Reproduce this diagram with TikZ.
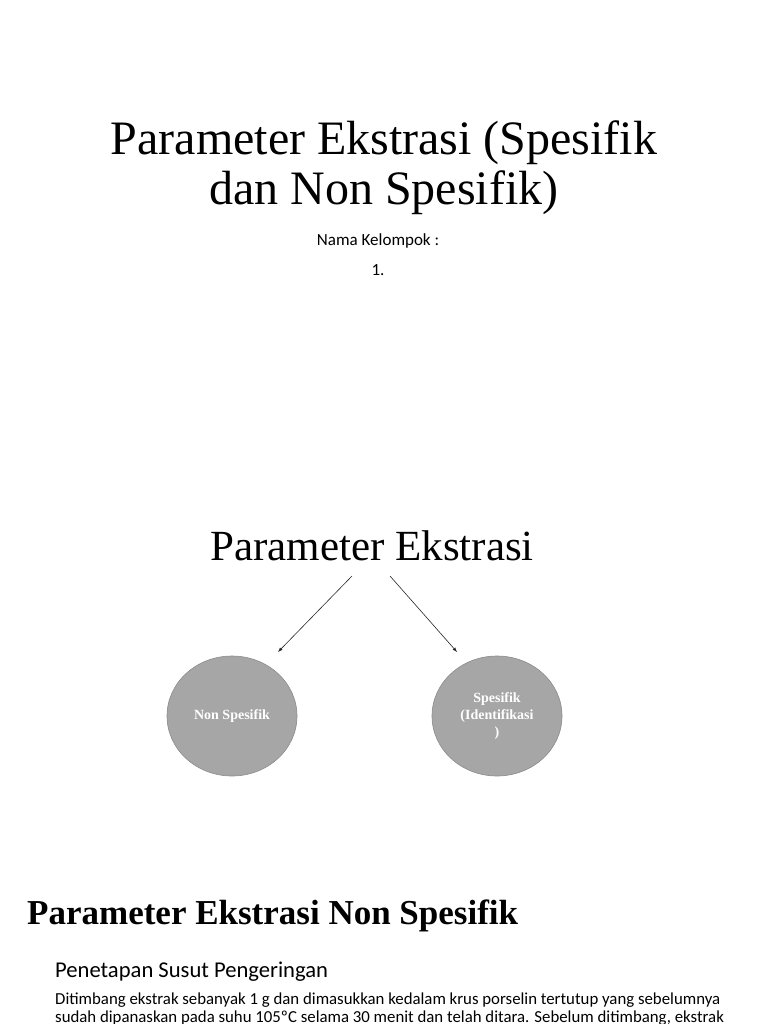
\documentclass[tikz,border=0pt]{standalone}
\usetikzlibrary{shapes.geometric}
\usepackage{fontspec}
\setmainfont{Liberation Serif}
\newfontfamily\cali{Carlito}
\begin{document}
\begin{tikzpicture}[x=1pt,y=-1pt,
  blob/.style={ellipse,minimum width=130pt,minimum height=120pt,fill=black!35,draw=black!45,line width=0.6pt,text=white,font=\fontsize{14}{17}\selectfont\bfseries,align=center,inner sep=0pt},
  arr/.style={-latex,line width=0.6pt,black!85}]
\useasboundingbox (0,0) rectangle (768,1024);
\node[font=\fontsize{48}{50}\selectfont,align=center] (t) at (384,168) {Parameter Ekstrasi (Spesifik\\dan Non Spesifik)};
\node[font=\cali\fontsize{17}{30}\selectfont,align=center] (n) at (378,255) {Nama Kelompok :\\1.};
\node[font=\fontsize{43}{46}\selectfont] (p) at (372,546) {Parameter Ekstrasi};
\coordinate (a1) at (352,576);
\coordinate (a2) at (390,576);
\node[blob] (l) at (232,716) {Non Spesifik};
\node[blob] (r) at (497,716) {Spesifik\\(Identifikasi\\)};
\draw[arr] (a1) -- (278,652);
\draw[arr] (a2) -- (457,652);
\node[font=\fontsize{35}{38}\selectfont\bfseries,anchor=west,inner sep=0pt] (h) at (27,916) {Parameter Ekstrasi Non Spesifik};
\node[font=\cali\fontsize{22.6}{26}\selectfont,anchor=west,inner sep=0pt] (s) at (55,972) {Penetapan Susut Pengeringan};
\node[font=\cali\fontsize{16.8}{18}\selectfont,anchor=north west,align=left,inner sep=0pt] (b) at (55,993) {Ditimbang ekstrak sebanyak 1 g dan dimasukkan kedalam krus porselin tertutup yang sebelumnya\\sudah dipanaskan pada suhu 105ºC selama 30 menit dan telah ditara. Sebelum ditimbang, ekstrak};
\end{tikzpicture}
\end{document}
